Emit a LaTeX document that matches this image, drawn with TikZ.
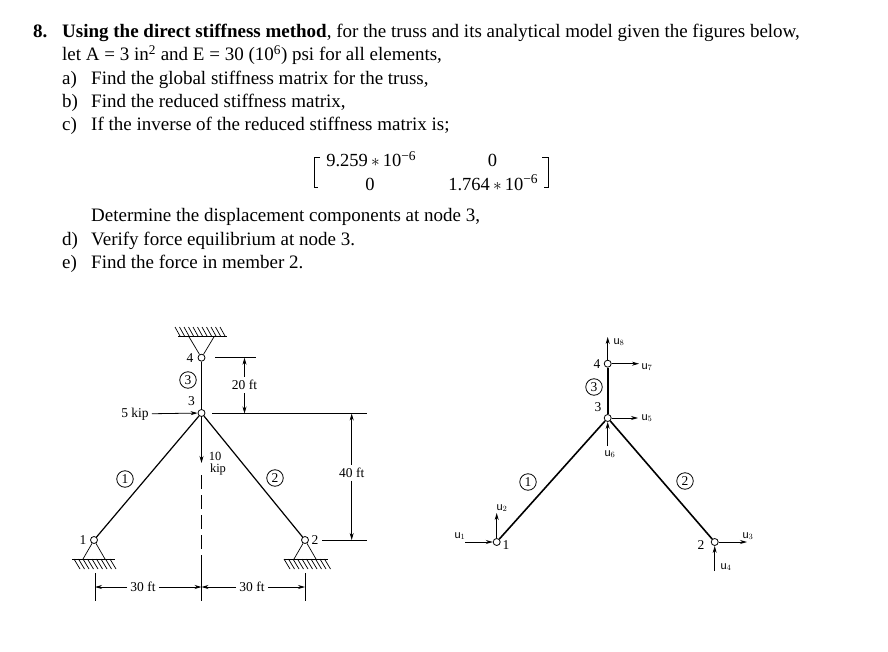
\documentclass[tikz,border=0pt]{standalone}
\usepackage{amsmath}
\usepackage{fontspec}
\setmainfont{Liberation Serif}
\setsansfont{Liberation Sans}
\usetikzlibrary{arrows.meta,positioning}
\newcommand{\expo}{\raisebox{6.5pt}{\fontsize{13.5}{14}\selectfont −6}}
\begin{document}
\begin{tikzpicture}[
x=1pt,y=-1pt,
>={Stealth[length=7pt,width=4pt]},
txt/.style={anchor=base west,inner sep=0pt,font=\fontsize{19}{20}\selectfont},
num/.style={inner sep=0pt,font=\fontsize{18.5}{20}\selectfont},
pin/.style={circle,draw,fill=white,minimum size=7pt,inner sep=0pt,line width=0.8pt},
elem/.style={circle,draw,inner sep=0pt,minimum size=16.5pt,line width=0.8pt,font=\fontsize{13.5}{14}\selectfont},
lab/.style={inner sep=0pt,font=\fontsize{13.5}{14}\selectfont},
dimlab/.style={lab,inner sep=3pt},
dof/.style={inner sep=0pt,font=\sffamily\fontsize{11}{12}\selectfont},
member/.style={line width=1.2pt},
dim/.style={line width=0.7pt},
grnd/.style={line width=1pt},
force/.style={->,line width=0.8pt}]
    \useasboundingbox (0,0) rectangle (888,652);

    % Problem text
    \node[txt] (q) at (33,37.5) {\textbf{8.}};
    \node[txt] (l1) at (62,37.5) {\textbf{Using the direct stiffness method}, for the truss and its analytical model given the figures below,};
    \node[txt] (l2) at (62,61) {let A = 3 in\textsuperscript{2} and E = 30 (10\textsuperscript{6}) psi for all elements,};
    \node[txt] (ma) at (62,85) {a)};
    \node[txt] (la) at (91,85) {Find the global stiffness matrix for the truss,};
    \node[txt] (mb) at (62,108) {b)};
    \node[txt] (lb) at (91,108) {Find the reduced stiffness matrix,};
    \node[txt] (mc) at (62,131) {c)};
    \node[txt] (lc) at (91,131) {If the inverse of the reduced stiffness matrix is;};
    \node[txt] (ld) at (91,222) {Determine the displacement components at node 3,};
    \node[txt] (md) at (62,246) {d)};
    \node[txt] (le) at (91,246) {Verify force equilibrium at node 3.};
    \node[txt] (me) at (62,269) {e)};
    \node[txt] (lf) at (91,269) {Find the force in member 2.};

    % Matrix
    \node[num,anchor=base] (m11) at (371,167) {9.259\,$\ast$\,10\expo};
    \node[num,anchor=base] (m12) at (492.5,167) {0};
    \node[num,anchor=base] (m21) at (370,190.5) {0};
    \node[num,anchor=base] (m22) at (493,190.5) {1.764\,$\ast$\,10\expo};
    \draw[line width=0.9pt] (320,157) -- (314,157) -- (314,187) -- (318,187);
    \draw[line width=0.9pt] (542,157) -- (548,157) -- (548,187) -- (544,187);

    % Left truss
    \node[pin] (n4) at (201.5,357.7) {};
    \node[pin] (n3) at (201.5,413) {};
    \node[pin] (n1) at (94,540) {};
    \node[pin] (n2) at (305,540) {};
    \coordinate (t4a) at (188.5,336);
    \coordinate (t4b) at (214.5,336);
    \coordinate (t1a) at (83,559);
    \coordinate (t1b) at (105,559);
    \coordinate (t2a) at (294,559);
    \coordinate (t2b) at (316,559);
    \draw[grnd] (178,336) -- (227,336);
    \foreach \xpos in {180,184.5,...,225}
        \draw[dim] (\xpos,336) -- (\xpos-5,327);
    \draw[grnd] (72,559) -- (115,559);
    \foreach \xpos in {74,78.5,...,112}
        \draw[dim] (\xpos,559) -- (\xpos+6,569);
    \draw[grnd] (284,559) -- (328,559);
    \foreach \xpos in {284,288.5,...,325}
        \draw[dim] (\xpos,559) -- (\xpos+6,569);
    \draw[line width=0.7pt] (t4a) -- (n4) -- (t4b);
    \draw[line width=0.7pt] (t1a) -- (n1) -- (t1b);
    \draw[line width=0.7pt] (t2a) -- (n2) -- (t2b);
    \draw[member] (n1) -- (n3) -- (n2);
    \draw[member] (n3) -- (n4);
    \node[lab] (l1n) at (83,540) {1};
    \node[lab] (l2n) at (315,540) {2};
    \node[lab] (l3n) at (191.5,401.5) {3};
    \node[lab] (l4n) at (190,358) {4};
    \node[elem] (e1) at (125,479) {1};
    \node[elem] (e2) at (275,478) {2};
    \node[elem] (e3) at (188,380) {3};

    % Loads
    \node[dimlab] (fh) at (135,414) {5 kip};
    \draw[force] (fh) -- (n3);
    \coordinate (fv) at (201.5,463);
    \draw[force] (n3) -- (fv);
    \node[lab,font=\fontsize{12.5}{13}\selectfont] (fvl) at (215,456) {10};
    \node[lab,font=\fontsize{12.5}{13}\selectfont] (fvk) at (218,469.5) {kip};

    % Dimensions
    \coordinate (top4) at (215,357.7);
    \coordinate (top4e) at (256,357.7);
    \coordinate (mid3) at (212,413.5);
    \coordinate (mid3e) at (367,413.5);
    \coordinate (bot2) at (322,540);
    \coordinate (bot2e) at (367,540);
    \draw[dim] (top4) -- (top4e);
    \draw[dim] (mid3) -- (mid3e);
    \draw[dim] (bot2) -- (bot2e);
    \node[dimlab] (d20) at (244.5,385) {20 ft};
    \coordinate (d20a) at (244.5,357.7);
    \coordinate (d20b) at (244.5,413.5);
    \draw[force,dim] (d20) -- (d20a);
    \draw[force,dim] (d20) -- (d20b);
    \node[dimlab] (d40) at (351.7,472.7) {40 ft};
    \coordinate (d40a) at (351.7,413.5);
    \coordinate (d40b) at (351.7,540);
    \draw[force,dim] (d40) -- (d40a);
    \draw[force,dim] (d40) -- (d40b);
    \coordinate (c1t) at (95,573);
    \coordinate (c1b) at (95,601);
    \coordinate (c2t) at (305,573);
    \coordinate (c2b) at (305,601);
    \coordinate (cda) at (201.5,475);
    \coordinate (cdb) at (201.5,565);
    \coordinate (cdc) at (201.5,601);
    \draw[dim] (c1t) -- (c1b);
    \draw[dim] (c2t) -- (c2b);
    \draw[dim,dash pattern=on 14pt off 6pt] (cda) -- (cdb);
    \draw[dim] (cdb) -- (cdc);
    \node[dimlab] (d30a) at (143,587) {30 ft};
    \node[dimlab] (d30b) at (252,587) {30 ft};
    \coordinate (p1) at (95,587);
    \coordinate (p2) at (201.5,587);
    \coordinate (p3) at (305,587);
    \draw[force,dim] (d30a) -- (p1);
    \draw[force,dim] (d30a) -- (p2);
    \draw[force,dim] (d30b) -- (p2);
    \draw[force,dim] (d30b) -- (p3);

    % Right truss
    \node[pin] (r4) at (607.7,363.7) {};
    \node[pin] (r3) at (607.7,418) {};
    \node[pin] (r1) at (496.7,542) {};
    \node[pin] (r2) at (714.7,542) {};
    \draw[line width=1.6pt] (r1) -- (r3) -- (r2);
    \draw[line width=1.6pt] (r3) -- (r4);
    \node[lab] (k1) at (506,545) {1};
    \node[lab] (k2) at (701,545) {2};
    \node[lab] (k3) at (598,407) {3};
    \node[lab] (k4) at (597,364) {4};
    \node[elem] (f1) at (528,482) {1};
    \node[elem] (f2) at (685,481) {2};
    \node[elem] (f3) at (594,387) {3};

    % Displacement arrows
    \node[dof] (u1) at (460,536) {u$_1$};
    \node[dof] (u2) at (502,508) {u$_2$};
    \node[dof] (u3) at (748,536) {u$_3$};
    \node[dof] (u4) at (726,567) {u$_4$};
    \node[dof] (u5) at (647,418) {u$_5$};
    \node[dof] (u6) at (610,454) {u$_6$};
    \node[dof] (u7) at (647,367) {u$_7$};
    \node[dof] (u8) at (619,342) {u$_8$};
    \coordinate (a1) at (465,542);
    \coordinate (a2) at (496.7,513);
    \coordinate (a3) at (747,542);
    \coordinate (a4) at (714.7,571);
    \coordinate (a5) at (638,418);
    \coordinate (a6) at (607.7,446);
    \coordinate (a7) at (639,363.7);
    \coordinate (a8) at (607.7,337);
    \draw[force] (a1) -- (r1);
    \draw[force] (r1) -- (a2);
    \draw[force] (r2) -- (a3);
    \draw[force] (a4) -- (r2);
    \draw[force] (r3) -- (a5);
    \draw[force] (a6) -- (r3);
    \draw[force] (r4) -- (a7);
    \draw[force] (r4) -- (a8);
\end{tikzpicture}
\end{document}
